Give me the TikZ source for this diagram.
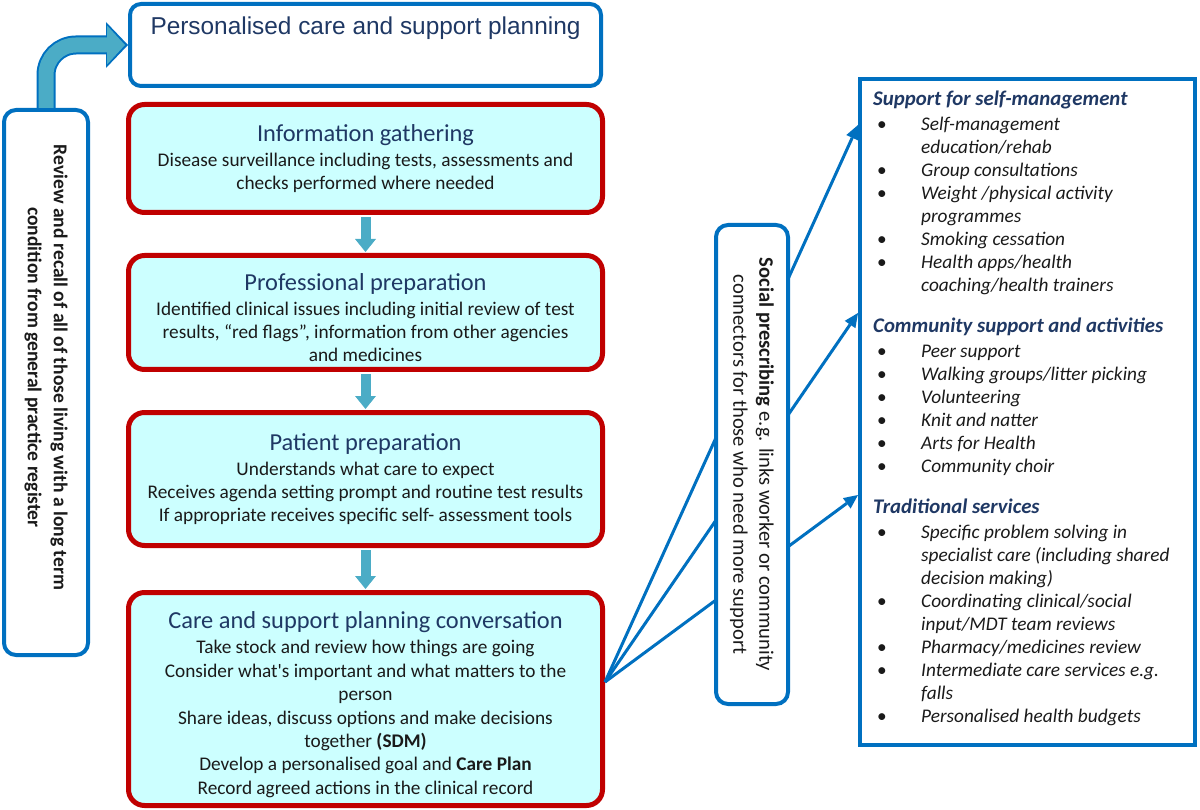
\documentclass[tikz,border=0pt]{standalone}
\usepackage{fontspec}
\setmainfont{Carlito}
\newfontfamily\planfont{Liberation Sans}
\usepackage{tikz}
\usetikzlibrary{positioning,arrows.meta,calc}

\definecolor{cblue}{HTML}{0070C0}
\definecolor{cred}{HTML}{C00000}
\definecolor{ccyan}{HTML}{CCFFFF}
\definecolor{cteal}{HTML}{4BACC6}
\definecolor{cnavy}{HTML}{1F3864}
\definecolor{cink}{HTML}{1A1A1A}

\newcommand{\stagehead}[1]{{\fontsize{24.4}{25}\selectfont\color{cnavy}#1}}
\newcommand{\svhead}[1]{{\fontsize{20.8}{23}\selectfont\bfseries\itshape\color{cnavy}#1}}
\newcommand{\svitem}[1]{\makebox[48pt][l]{\hspace{4pt}\textbullet}\textit{#1}}
\newcommand{\svmore}[1]{\hspace*{48pt}\textit{#1}}

\begin{document}
\begin{tikzpicture}[x=1pt, y=-1pt,
      font=\fontsize{19.3}{23}\selectfont,
      stage/.style={draw=cred, line width=5pt, rounded corners=16pt, fill=ccyan,
                    minimum width=474pt, align=center, text=cink, inner sep=0pt},
      planbox/.style={draw=cblue, line width=4pt, rounded corners=11pt, fill=white},
      sidebox/.style={draw=cblue, line width=4pt, rounded corners=12pt, fill=white},
      sidetext/.style={font=\fontsize{19.6}{26}\selectfont\bfseries, align=center, text=cink},
      svbox/.style={draw=cblue, line width=4pt, fill=white},
      svlist/.style={align=left, inner sep=0pt, text=cink},
      steparrow/.style={-{Triangle[length=13pt,width=21pt,line width=0pt]}, line width=10pt,
                        cteal, shorten <=2pt, shorten >=1pt},
      fanarrow/.style={-{Triangle[length=14pt,width=13pt,line width=0pt]}, line width=3pt, cblue},
      bendouter/.style={-{Triangle[length=22pt,width=46pt,line width=0pt]}, line width=19pt,
                        cblue, rounded corners=30pt},
      bendinner/.style={-{Triangle[length=18pt,width=39pt,line width=0pt]}, line width=15pt,
                        cteal, rounded corners=30pt, shorten >=3pt},
    ]
    \useasboundingbox (0,0) rectangle (1200,810);

    % top heading box
    \node[planbox, minimum width=471pt, minimum height=82pt] (plan) at (365.5,45) {};
    \node[below=15pt of plan.north, inner sep=0pt, text=cnavy,
          font=\planfont\fontsize{24.4}{25}\selectfont] (plantitle)
      {Personalised care and support planning};

    % recall box on the left
    \node[sidebox, minimum width=84pt, minimum height=545pt] (review) at (46,382.5) {};
    \node[sidetext, rotate=-90] (reviewtext) at ([yshift=15pt]review.center)
      {Review and recall of all of those living with a long term\\
       condition from general practice register};
    \draw[bendouter] (review.north) |- (plan.west);
    \draw[bendinner] (review.north) |- (plan.west);

    % the four stages
    \node[stage, minimum height=108pt] (info) at (365.5,158.5)
      {\stagehead{Information gathering}\\[2pt]
       Disease surveillance including tests, assessments and\\
       checks performed where needed};
    \node[stage, minimum height=114pt] (prof) at (365.5,312.5)
      {\stagehead{\rule{0pt}{28pt}Professional preparation}\\[2pt]
       Identified clinical issues including initial review of test\\
       results, “red flags”, information from other agencies\\
       and medicines};
    \node[stage, minimum height=133pt] (patient) at (365.5,479)
      {\stagehead{Patient preparation}\\[2pt]
       Understands what care to expect\\
       Receives agenda setting prompt and routine test results\\
       If appropriate receives specific self- assessment tools};
    \node[stage, minimum height=213pt, font=\fontsize{19.3}{23.4}\selectfont] (care) at (365.5,699)
      {\stagehead{\rule{0pt}{28pt}Care and support planning conversation}\\[2pt]
       Take stock and review how things are going\\
       Consider what\textquotesingle s important and what matters to the\\
       person\\
       Share ideas, discuss options and make decisions\\
       together \textbf{(SDM)}\\
       Develop a personalised goal and \textbf{Care Plan}\\
       Record agreed actions in the clinical record};
    \draw[steparrow] (info) -- (prof);
    \draw[steparrow] (prof) -- (patient);
    \draw[steparrow] (patient) -- (care);

    % services on the right
    \node[svbox, minimum width=335pt, minimum height=666pt] (services) at (1027.5,412) {};
    \node[svlist, below right=14pt and 15pt of services.north west] (svtext)
      {\svhead{Support for self-management}\\[2pt]
       \svitem{Self-management}\\
       \svmore{education/rehab}\\
       \svitem{Group consultations}\\
       \svitem{Weight /physical activity}\\
       \svmore{programmes}\\
       \svitem{Smoking cessation}\\
       \svitem{Health apps/health}\\
       \svmore{coaching/health trainers}\\[18pt]
       \svhead{Community support and activities}\\[2pt]
       \svitem{Peer support}\\
       \svitem{Walking groups/litter picking}\\
       \svitem{Volunteering}\\
       \svitem{Knit and natter}\\
       \svitem{Arts for Health}\\
       \svitem{Community choir}\\[18pt]
       \svhead{Traditional services}\\[2pt]
       \svitem{Specific problem solving in}\\
       \svmore{specialist care (including shared}\\
       \svmore{decision making)}\\
       \svitem{Coordinating clinical/social}\\
       \svmore{input/MDT team reviews}\\
       \svitem{Pharmacy/medicines review}\\
       \svitem{Intermediate care services e.g.}\\
       \svmore{falls}\\
       \svitem{Personalised health budgets}};

    % fan of arrows behind the social prescribing box
    \coordinate (fan) at ([yshift=17pt]care.east);
    \foreach \y in {125,313,495}{
      \draw[fanarrow] (fan) -- (services.west |- 0,\y);
    }
    \node[sidebox, rotate=-90, minimum width=479pt, minimum height=72pt, align=center,
          text=cink, font=\fontsize{20.6}{26}\selectfont] (social) at (752,464.5)
      {\textbf{Social prescribing} e.g. links worker or community\\
       connectors for those who need more support};
  \end{tikzpicture}
\end{document}
